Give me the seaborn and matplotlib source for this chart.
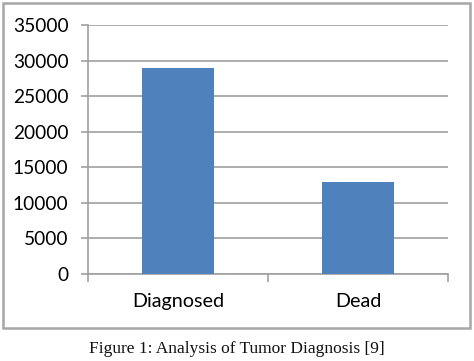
import matplotlib
matplotlib.use("Agg")
import matplotlib.pyplot as plt
from matplotlib.patches import Rectangle
import seaborn as sns
import pandas as pd

categories = ["Diagnosed", "Dead"]
values = [29000, 13000]
yticks = [0, 5000, 10000, 15000, 20000, 25000, 30000, 35000]
caption = "Figure 1: Analysis of Tumor Diagnosis [9]"

sns.set_theme(style="white")
plt.rcParams["font.family"] = ["Lato", "DejaVu Sans"]

df = pd.DataFrame({"category": categories, "value": values})

fig = plt.figure(figsize=(4.74, 3.61), dpi=100)
ax = fig.add_axes([88/474, 1 - 274/361, 360/474, 249/361])
ax.set_facecolor("white")

sns.barplot(data=df, x="category", y="value", color="#4F81BD", width=0.4,
            saturation=1, ax=ax, zorder=3, linewidth=0)

grid_c = "#A0A0A0"
ax.set_xlim(-0.5, 1.5)
ax.set_ylim(0, 35000)
ax.set_yticks(yticks)
ax.set_yticklabels([str(v) for v in yticks])
ax.yaxis.grid(True, color=grid_c, linewidth=1.2, zorder=0)
ax.xaxis.grid(False)
ax.set_axisbelow(True)
ax.set_xlabel("")
ax.set_ylabel("")
for s in ["top", "right"]:
    ax.spines[s].set_visible(False)
for s in ["left", "bottom"]:
    ax.spines[s].set_color(grid_c)
    ax.spines[s].set_linewidth(1.2)

ax.tick_params(axis="y", length=5, width=1.2, color=grid_c, direction="out",
               labelsize=13.8, pad=9, left=True, labelcolor="black")
ax.set_xticks([0, 1])
ax.set_xticklabels(categories)
ax.tick_params(axis="x", which="major", length=0, labelsize=14.2, pad=14,
               labelcolor="black")
ax.set_xticks([-0.5, 0.5, 1.5], minor=True)
ax.tick_params(axis="x", which="minor", length=6, width=1.2, color=grid_c,
               direction="out", bottom=True)

fig.add_artist(Rectangle((3/474, 1 - 328/361), 467/474, 325/361,
                         transform=fig.transFigure, fill=False,
                         edgecolor="#A6A6A6", linewidth=1.8))

fig.text(0.5, 1 - 349/361, caption, ha="center", va="center",
         family="Liberation Serif", fontsize=12.5, color="#111111")

fig.savefig("out.png", dpi=100)
